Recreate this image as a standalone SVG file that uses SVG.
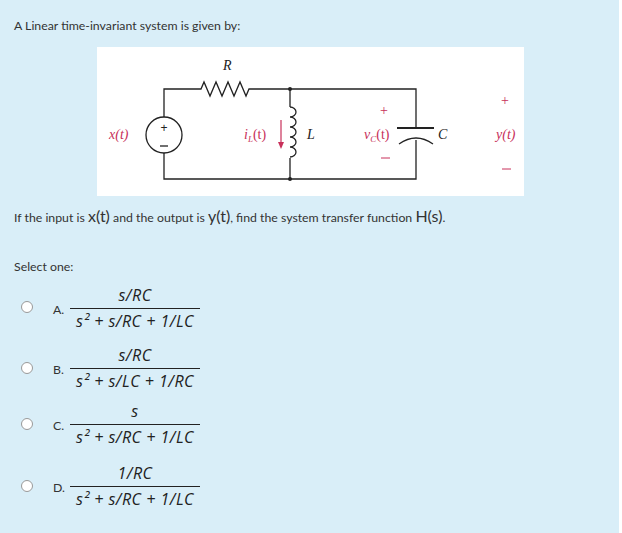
<svg xmlns="http://www.w3.org/2000/svg" width="622" height="533" viewBox="0 0 622 533">
<style>
.w{fill:none;stroke:#222;stroke-width:1.3}
.m{font-family:"Liberation Serif",serif;font-style:italic;font-size:14px;fill:#c8305a}
.mb{font-family:"Liberation Serif",serif;font-style:italic;font-size:14px;fill:#222}
.p{font-family:"Liberation Serif",serif;font-size:14px;fill:#c8305a}
.t{font-family:Lato,"Noto Sans",sans-serif;font-size:12.3px;fill:#333}
.f{font-family:"Open Sans","Liberation Sans",sans-serif;font-style:italic;font-size:16px;fill:#222;letter-spacing:0.5px}
.fl{stroke:#222;stroke-width:1}
.r{fill:#fff;stroke:#999;stroke-width:1}
</style>
<rect width="622" height="533" fill="#fff"/>
<rect x="0" y="0" width="619" height="533" fill="#d9eef8"/>
<text class="t" x="14" y="30">A Linear time-invariant system is given by:</text>
<rect x="97" y="47" width="427" height="149" fill="#fff"/>
<g id="circuit">
<path class="w" d="M164 117 V89 H201 l3 -7 l6 14 l6 -14 l6 14 l6 -14 l6 14 l6 -14 l6 14 l3 -7 H416 V128 M416 140 V179 H164 V153"/>
<path class="w" d="M290 89 V107 M290 158 V179"/>
<path class="w" d="M290 107 a6 5 0 1 1 0 10 a6 5 0 1 1 0 10 a6 5 0 1 1 0 10 a6 5 0 1 1 0 10 a6 5 0 1 1 0 10"/>
<circle cx="290" cy="89" r="2" fill="#222"/><circle cx="290" cy="179" r="2" fill="#222"/>
<circle class="w" cx="164" cy="135" r="18"/>
<text x="164" y="132" text-anchor="middle" font-family="Liberation Sans,sans-serif" font-size="12" fill="#222">+</text>
<path class="w" d="M160 146 H168"/>
<path d="M397 128 H434" stroke="#222" stroke-width="2"/>
<path class="w" d="M399 144 Q416 132 433 144"/>
<path d="M281 120 V146" stroke="#c8305a" stroke-width="1.2"/>
<path d="M278 142 L281 149 L284 142 Z" fill="#c8305a"/>
<text class="m" x="109" y="139">x(t)</text>
<text class="m" x="244" y="139">i<tspan font-size="9" dy="3">L</tspan><tspan dy="-3" font-style="normal">(t)</tspan></text>
<text class="mb" x="307" y="139">L</text>
<text class="mb" x="223" y="70">R</text>
<text class="m" x="364" y="139">v<tspan font-size="9" dy="3">C</tspan><tspan dy="-3" font-style="normal">(t)</tspan></text>
<text class="mb" x="438" y="139">C</text>
<text class="m" x="496" y="139">y(t)</text>
<text class="p" x="380" y="115">+</text><path d="M381 158 H390" stroke="#c8305a"/>
<text class="p" x="501" y="105">+</text><path d="M502 169 H511" stroke="#c8305a"/>
</g>
<g id="connectors"></g>
<text class="t" x="14" y="222">If the input is <tspan font-size="16">x(t)</tspan> and the output is <tspan font-size="16">y(t)</tspan>, find the system transfer function <tspan font-size="16">H(s)</tspan>.</text>
<text class="t" x="14" y="271">Select one:</text>
<g id="optA"><circle class="r" cx="27" cy="307" r="5.5"/><text class="t" x="53" y="314">A.</text>
<text class="f" x="135" y="301" text-anchor="middle">s/RC</text><path class="fl" d="M70 308.5 H200"/>
<text class="f" x="135" y="327" text-anchor="middle">s² + s/RC + 1/LC</text></g>
<g id="optB"><circle class="r" cx="27" cy="368" r="5.5"/><text class="t" x="53" y="374">B.</text>
<text class="f" x="135" y="361" text-anchor="middle">s/RC</text><path class="fl" d="M70 368.5 H200"/>
<text class="f" x="135" y="387" text-anchor="middle">s² + s/LC + 1/RC</text></g>
<g id="optC"><circle class="r" cx="27" cy="424" r="5.5"/><text class="t" x="53" y="430">C.</text>
<text class="f" x="135" y="417" text-anchor="middle">s</text><path class="fl" d="M70 424.5 H200"/>
<text class="f" x="135" y="443" text-anchor="middle">s² + s/RC + 1/LC</text></g>
<g id="optD"><circle class="r" cx="27" cy="486" r="5.5"/><text class="t" x="53" y="492">D.</text>
<text class="f" x="135" y="479" text-anchor="middle">1/RC</text><path class="fl" d="M70 486.5 H200"/>
<text class="f" x="135" y="505" text-anchor="middle">s² + s/RC + 1/LC</text></g>
</svg>
